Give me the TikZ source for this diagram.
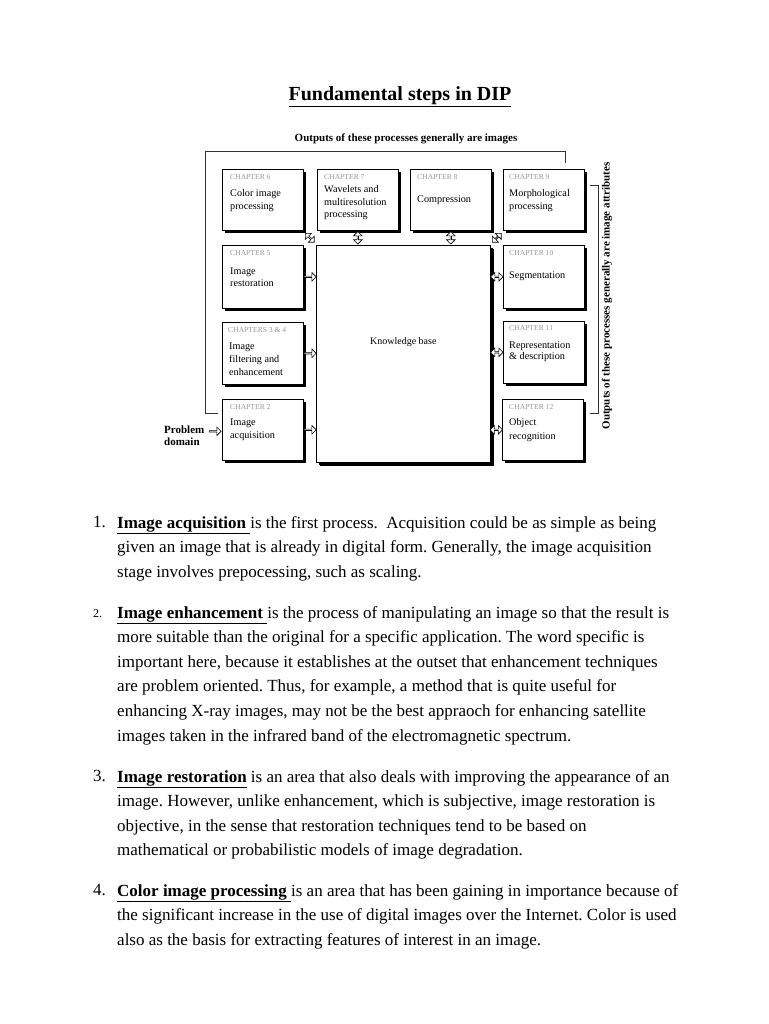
\documentclass[tikz,border=0pt]{standalone}
\usepackage{fontspec}
\setmainfont{Liberation Serif}
\usetikzlibrary{shapes.arrows,calc,shadows}
\begin{document}
\frenchspacing
\begin{tikzpicture}[x=1pt,y=-1pt,
  box/.style={draw=black, line width=0.6pt, fill=white, anchor=north west, inner sep=0,
    minimum width=81pt, minimum height=61pt,
    drop shadow={shadow xshift=2.5pt, shadow yshift=-2.5pt, fill=black, opacity=1}},
  chap/.style={anchor=base west, inner sep=0, font=\fontsize{7.6}{8}\selectfont, text=black!40},
  lbl/.style={anchor=north west, align=left, inner sep=0, font=\fontsize{10.2}{12.8}\selectfont},
  sarr/.style={single arrow, draw=black, fill=white, line width=0.6pt, inner sep=0,
    minimum height=12pt, minimum width=8.5pt, single arrow head extend=1.5pt},
  darr/.style={double arrow, draw=black, fill=white, line width=0.6pt, inner sep=0,
    minimum height=12.5pt, minimum width=8.5pt, double arrow head extend=1.5pt},
  captext/.style={inner sep=0, font=\bfseries\fontsize{11}{12}\selectfont},
  para/.style={anchor=north west, align=left, inner sep=0, font=\fontsize{17}{24.6}\selectfont},
  num/.style={anchor=base west, inner sep=0, font=\fontsize{17}{18}\selectfont},
  bracket/.style={draw=black!80, line width=0.6pt}
]
\useasboundingbox[fill=white] (0,0) rectangle (768,1024);

% title
\node[anchor=base, inner sep=0, font=\bfseries\fontsize{20}{22}\selectfont] (title) at (400,101) {\underline{Fundamental steps in DIP}};

% captions
\node[captext] (topcap) at (406,139) {Outputs of these processes generally are images};
\node[captext, rotate=90] (rightcap) at (607,296) {Outputs of these processes generally are image attributes};

% brackets
\draw[bracket] (218,413) -- (205,413) -- (205,151) -- (565,151) -- (565,163);
\draw[bracket] (590,185) -- (598,185) -- (598,413) -- (590,413);

% boxes
\node[box] (b1) at (222,169) {};
\node[box] (b2) at (317,169) {};
\node[box] (b3) at (410,169) {};
\node[box] (b4) at (503,169) {};
\node[box, minimum height=63pt] (b5) at (222,245) {};
\node[box, minimum width=174pt, minimum height=217pt,
  drop shadow={shadow xshift=3.5pt, shadow yshift=-3.5pt, fill=black, opacity=1}] (kb) at (316,245) {};
\node[box, minimum height=63pt] (b6) at (503,245) {};
\node[box, minimum height=62pt] (b7) at (222,322) {};
\node[box, minimum height=62pt] (b8) at (503,321) {};
\node[box] (b9) at (222,399) {};
\node[box] (b10) at (502,399) {};

% chapter labels
\node[chap] at ([shift={(8,10.5)}]b1.north west) {CHAPTER 6};
\node[chap] at ([shift={(7,10.5)}]b2.north west) {CHAPTER 7};
\node[chap] at ([shift={(7,10.5)}]b3.north west) {CHAPTER 8};
\node[chap] at ([shift={(6,10.5)}]b4.north west) {CHAPTER 9};
\node[chap] at ([shift={(8,10.5)}]b5.north west) {CHAPTER 5};
\node[chap] at ([shift={(6,10.5)}]b6.north west) {CHAPTER 10};
\node[chap] at ([shift={(6,10.5)}]b7.north west) {CHAPTERS 3 \& 4};
\node[chap] at ([shift={(6,9)}]b8.north west) {CHAPTER 11};
\node[chap] at ([shift={(8,10.5)}]b9.north west) {CHAPTER 2};
\node[chap] at ([shift={(7,10.5)}]b10.north west) {CHAPTER 12};

% box texts
\node[lbl] at ([shift={(8,20.5)}]b1.north west) {Color image\\processing};
\node[lbl, font=\fontsize{10.2}{12.5}\selectfont] at ([shift={(7,16.5)}]b2.north west) {Wavelets and\\multiresolution\\processing};
\node[lbl] at ([shift={(7,26.5)}]b3.north west) {Compression};
\node[lbl] at ([shift={(6,20.5)}]b4.north west) {Morphological\\processing};
\node[lbl, font=\fontsize{10.2}{11.8}\selectfont] at ([shift={(8,22.5)}]b5.north west) {Image\\restoration};
\node[lbl] at ([shift={(6,26.5)}]b6.north west) {Segmentation};
\node[lbl, font=\fontsize{10.2}{12.6}\selectfont] at ([shift={(7,21)}]b7.north west) {Image\\filtering and\\enhancement};
\node[lbl, font=\fontsize{10.2}{11.5}\selectfont] at ([shift={(6,20.5)}]b8.north west) {Representation\\\& description};
\node[lbl, font=\fontsize{10.2}{13.5}\selectfont] at ([shift={(8,19.5)}]b9.north west) {Image\\acquisition};
\node[lbl, font=\fontsize{10.2}{13.5}\selectfont] at ([shift={(7,19.5)}]b10.north west) {Object\\recognition};
\node[inner sep=0, font=\fontsize{10}{11}\selectfont] (kbt) at ([yshift=11.5pt]kb.center) {Knowledge base};

% problem domain
\node[anchor=north west, align=left, inner sep=0, font=\bfseries\fontsize{11}{12}\selectfont] (pd) at (164,426) {Problem\\domain};
\node[sarr] at ($(pd.east |- b9.west)!0.5!(b9.west)+(1.5,1.5)$) {};

% arrows into knowledge base
\node[darr, rotate=-45] at ($(b1.south east)!0.5!(kb.north west)$) {};
\node[darr, rotate=90] at ($(b2.south)!0.5!(b2.south |- kb.north)$) {};
\node[darr, rotate=90] at ($(b3.south)!0.5!(b3.south |- kb.north)$) {};
\node[darr, rotate=45] at ($(b4.south west)!0.5!(kb.north east)$) {};
\node[sarr] at ($(b5.east)!0.5!(b5.east -| kb.west)$) {};
\node[sarr] at ($(b7.east)!0.5!(b7.east -| kb.west)$) {};
\node[sarr] at ($(b9.east)!0.5!(b9.east -| kb.west)$) {};
\node[darr] at ($(b6.west -| kb.east)!0.5!(b6.west)$) {};
\node[darr] at ($(b8.west -| kb.east)!0.5!(b8.west)$) {};
\node[darr] at ($(b10.west -| kb.east)!0.5!(b10.west)$) {};

% text items
\node[num] (n1) at (93,527.5) {1.};
\node[para] (p1) at (117,516) {\underline{\textbf{Image acquisition}\ }is the first process.\ \ Acquisition could be as simple as being\\
given an image that is already in digital form. Generally, the image acquisition\\
stage involves prepocessing, such as scaling.};

\node[num, font=\fontsize{12}{13}\selectfont] (n2) at (93,617.5) {2.};
\node[para] (p2) at (117,606) {\underline{\textbf{Image enhancement}\ }is the process of manipulating an image so that the result is\\
more suitable than the original for a specific application. The word specific is\\
important here, because it establishes at the outset that enhancement techniques\\
are problem oriented. Thus, for example, a method that is quite useful for\\
enhancing X-ray images, may not be the best appraoch for enhancing satellite\\
images taken in the infrared band of the electromagnetic spectrum.};

\node[num] (n3) at (93,781.5) {3.};
\node[para] (p3) at (117,770) {\underline{\textbf{Image restoration}} is an area that also deals with improving the appearance of an\\
image. However, unlike enhancement, which is subjective, image restoration is\\
objective, in the sense that restoration techniques tend to be based on\\
mathematical or probabilistic models of image degradation.};

\node[num] (n4) at (93,895.5) {4.};
\node[para] (p4) at (117,884) {\underline{\textbf{Color image processing}\ }is an area that has been gaining in importance because of\\
the significant increase in the use of digital images over the Internet. Color is used\\
also as the basis for extracting features of interest in an image.};

\end{tikzpicture}
\end{document}
